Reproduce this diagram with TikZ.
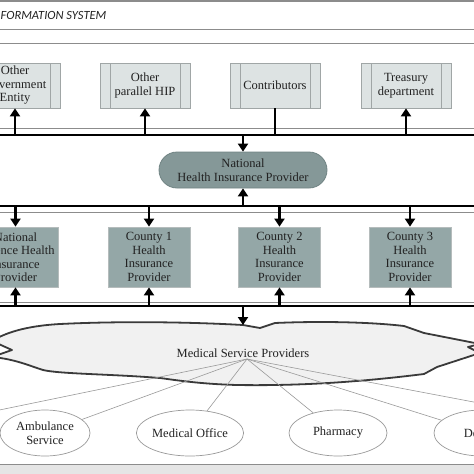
\documentclass[tikz,border=0pt]{standalone}
\usepackage{fontspec}
\setmainfont{Liberation Serif}
\newfontfamily\titlefont{Carlito}
\usetikzlibrary{arrows.meta,shapes.geometric,shapes.misc}
\definecolor{topfill}{HTML}{DDE3E3}
\definecolor{topdraw}{HTML}{A0A6A6}
\definecolor{midfill}{HTML}{94A7A7}
\definecolor{middraw}{HTML}{B5BCBC}
\definecolor{stadfill}{HTML}{859898}
\definecolor{staddraw}{HTML}{708383}
\definecolor{cloudfill}{HTML}{F1F1F1}
\definecolor{clouddraw}{HTML}{3A3A3A}
\definecolor{ellc}{HTML}{9A9A9A}
\definecolor{lanec}{HTML}{8C8C8C}
\definecolor{textc}{HTML}{222222}
\tikzset{
  boxfont/.style={font=\fontsize{12.5}{13.5}\selectfont, text=textc},
  topbox/.style={boxfont, draw=topdraw, fill=topfill, line width=0.8pt,
    minimum width=90pt, minimum height=45pt, inner sep=1pt, align=center,
    path picture={
      \draw[topdraw, line width=0.8pt]
        ([xshift=10pt]path picture bounding box.north west) --
        ([xshift=10pt]path picture bounding box.south west);
      \draw[topdraw, line width=0.8pt]
        ([xshift=-10pt]path picture bounding box.north east) --
        ([xshift=-10pt]path picture bounding box.south east);}},
  midbox/.style={boxfont, draw=middraw, fill=midfill, line width=0.8pt,
    minimum width=82pt, minimum height=60pt, inner sep=1pt, align=center},
  stadium/.style={boxfont, rounded rectangle, draw=staddraw, fill=stadfill,
    line width=0.8pt, minimum width=170pt, minimum height=36pt, inner sep=1pt, align=center},
  ell/.style={boxfont, ellipse, draw=ellc, fill=white, line width=0.7pt,
    minimum height=46pt, inner sep=0pt, align=center},
  bus/.style={line width=2.2pt, black},
  arr/.style={line width=2.2pt, black, -{Triangle[length=8pt,width=10pt]}},
  lane/.style={line width=1pt, lanec},
  fan/.style={line width=0.6pt, ellc},
  cloudst/.style={draw=clouddraw, fill=cloudfill, line width=1.8pt, line join=round}
}
\begin{document}
\begin{tikzpicture}[x=1pt,y=-1pt]
\useasboundingbox (0,0) rectangle (474,474);
\begin{scope}
\clip (0,0) rectangle (474,474);
% frame
\fill[white] (0,0) rectangle (474,474);
\fill[lanec] (0,0) rectangle (474,1.8);
\node[anchor=west, inner sep=0pt, font=\titlefont\itshape\fontsize{12.5}{15}\selectfont, text=textc] (title) at (0.5,15) {FORMATION SYSTEM};
\draw[lane] (0,29) -- (474,29);
\draw[lane] (0,43) -- (474,43);
\fill[black!10] (0,464) rectangle (474,474);
\draw[lane] (0,464) -- (474,464);
% lanes
\draw[lane] (0,128) -- (474,128);
\draw[lane] (0,212) -- (474,212);
\draw[lane] (0,302) -- (474,302);
% top row
\node[topbox] (gov) at (15,85.5) {Other\\Government\\Entity};
\node[topbox] (hip) at (145,85.5) {Other\\parallel HIP};
\node[topbox] (contrib) at (275,85.5) {Contributors};
\node[topbox] (treas) at (406,85.5) {Treasury\\department};
% bus 1
\coordinate (b1L) at (-5,135);
\coordinate (b1R) at (479,135);
\draw[bus] (b1L) -- (b1R);
\draw[arr] (gov |- b1L) -- (gov);
\draw[arr] (hip |- b1L) -- (hip);
\draw[bus] (contrib) -- (contrib |- b1L);
\draw[arr] (treas |- b1L) -- (treas);
% national provider
\node[stadium] (nhip) at (243,170) {National\\Health Insurance Provider};
\draw[arr] (nhip |- b1L) -- (nhip);
% bus 2
\coordinate (b2L) at (-5,206);
\coordinate (b2R) at (479,206);
\draw[bus] (b2L) -- (b2R);
\draw[arr] (nhip |- b2L) -- (nhip);
% middle row
\node[midbox, minimum width=86pt] (m0) at (15.5,257) {National\\Defence Health\\Insurance\\Provider};
\node[midbox] (m1) at (149,257) {County 1\\Health\\Insurance\\Provider};
\node[midbox] (m2) at (279.5,257) {County 2\\Health\\Insurance\\Provider};
\node[midbox] (m3) at (410,257) {County 3\\Health\\Insurance\\Provider};
\foreach \m in {m0,m1,m2,m3} {\draw[arr] (\m |- b2L) -- (\m);}
% bus 3
\coordinate (b3L) at (-5,306);
\coordinate (b3R) at (479,306);
\draw[bus] (b3L) -- (b3R);
\foreach \m in {m0,m1,m2,m3} {\draw[arr] (\m |- b3L) -- (\m);}
% cloud
\path[cloudst] (12,350) -- (-8,341)
  .. controls (5,333) and (25,326) .. (60,324)
  .. controls (120,321) and (190,322) .. (243,325)
  -- (260,328) -- (275,323)
  .. controls (320,321) and (370,322) .. (404,326)
  -- (424,333) -- (480,344) -- (468,347) -- (480,353)
  -- (437,367) -- (424,374)
  .. controls (360,382) and (300,386) .. (237,385)
  .. controls (200,384) and (175,380) .. (160,378)
  .. controls (110,374) and (60,374) .. (43,370)
  .. controls (30,366) and (15,359) .. (-8,357)
  -- cycle;
\coordinate (cloudtop) at (243,325);
\draw[arr] (cloudtop |- b3L) -- (cloudtop);
\node[boxfont] (msp) at (243,353) {Medical Service Providers};
\coordinate (src) at (247,359);
% providers
\node[ell, minimum width=90pt] (amb) at (45,433) {Ambulance\\Service};
\node[ell, minimum width=96pt] (medoff) at (190,433) {Medical Office};
\node[ell, minimum width=98pt] (pharm) at (338,433) {Pharmacy};
\node[ell, minimum width=96pt] (dent) at (482,433) {Dentist};
\coordinate (offL) at (-20,414);
\coordinate (offR) at (500,407);
\draw[fan] (src) -- (offL);
\draw[fan] (src) -- (amb);
\draw[fan] (src) -- (medoff);
\draw[fan] (src) -- (pharm);
\draw[fan] (src) -- (dent);
\draw[fan] (src) -- (offR);
\end{scope}
\end{tikzpicture}
\end{document}
